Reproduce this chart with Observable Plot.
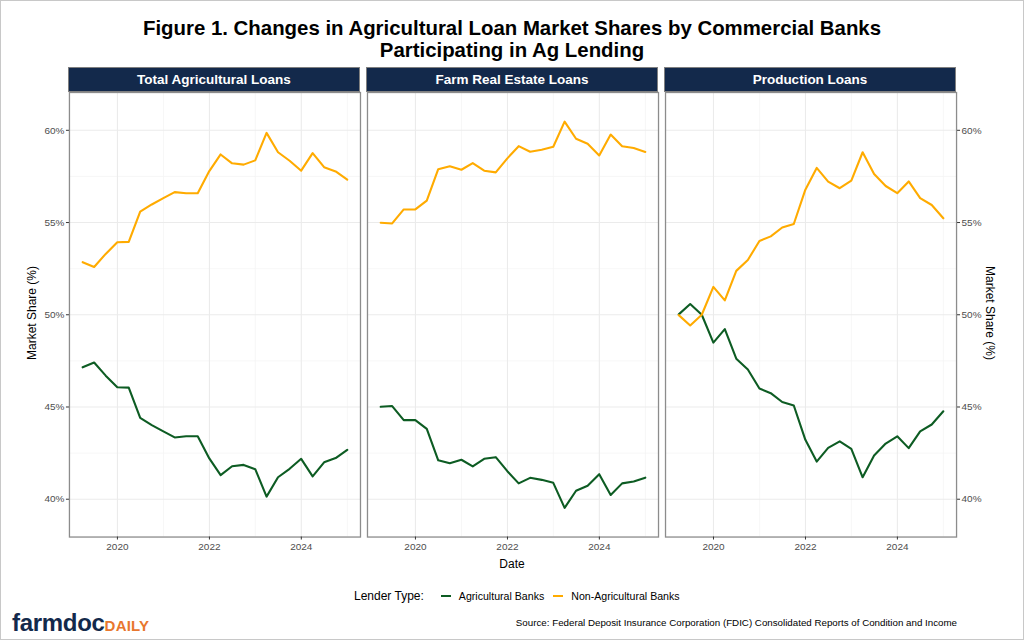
<!DOCTYPE html>
<html>
<head>
<meta charset="utf-8">
<script src="https://cdn.jsdelivr.net/npm/d3@7"></script>
<script src="https://cdn.jsdelivr.net/npm/@observablehq/plot@0.6"></script>
<style>
  html, body { margin: 0; padding: 0; background: #fff; }
  #fig {
    position: relative; width: 1022px; height: 638px;
    border: 1px solid #c8c8c8; background: #fff; overflow: hidden;
    font-family: "Liberation Sans", Arial, sans-serif; color: #000;
  }
  #title {
    position: absolute; top: 16px; left: 0; width: 1022px; text-align: center;
    font-weight: bold; font-size: 20.4px; line-height: 22px;
  }
  .strip {
    position: absolute; top: 66px; height: 23px; width: 290px;
    background: #13294b; border: 1px solid #7f7f7f; color: #fff;
    font-weight: bold; font-size: 13.5px; line-height: 23px; text-align: center;
  }
  #chart { position: absolute; top: 79px; left: -1px; }
  .ylab {
    position: absolute; font-size: 12px; white-space: nowrap;
    transform-origin: center center;
  }
  #xlab { position: absolute; top: 556px; left: 0; width: 1022px; text-align: center; font-size: 12px; }
  #legend {
    position: absolute; top: 588px; left: 353px; display: flex; align-items: center;
    white-space: nowrap;
  }
  #legend .lt { font-size: 12px; margin-right: 17px; }
  #legend .sw { width: 10px; height: 2.5px; margin-right: 8px; }
  #legend .it { font-size: 10.6px; margin-right: 9px; }
  #logo {
    position: absolute; left: 11px; top: 608px; font-weight: bold; white-space: nowrap;
  }
  #logo .a { color: #13294b; font-size: 24px; letter-spacing: -0.3px; }
  #logo .b { color: #e8772e; font-size: 15px; letter-spacing: 0.2px; }
  #source { position: absolute; right: 66px; top: 616px; font-size: 9.75px; white-space: nowrap; }
</style>
</head>
<body>
<div id="fig">
  <div id="title">Figure 1. Changes in Agricultural Loan Market Shares by Commercial Banks<br>Participating in Ag Lending</div>
  <div id="strips"></div>
  <div id="chart"></div>
  <div class="ylab" id="ylabL">Market Share (%)</div>
  <div class="ylab" id="ylabR">Market Share (%)</div>
  <div id="xlab">Date</div>
  <div id="legend"></div>
  <div id="logo"><span class="a">farmdoc</span><span class="b">DAILY</span></div>
  <div id="source">Source: Federal Deposit Insurance Corporation (FDIC) Consolidated Reports of Condition and Income</div>
</div>
<script>
// Panels (loan categories) and lender types
const panels = ["Total Agricultural Loans", "Farm Real Estate Loans", "Production Loans"];
const lenderTypes = ["Agricultural Banks", "Non-Agricultural Banks"];
const lenderColors = ["#0d5c23", "#ffab00"];

// Quarter-end reporting dates
const quarters = [
  "2019-03-31", "2019-06-30", "2019-09-30", "2019-12-31",
  "2020-03-31", "2020-06-30", "2020-09-30", "2020-12-31",
  "2021-03-31", "2021-06-30", "2021-09-30", "2021-12-31",
  "2022-03-31", "2022-06-30", "2022-09-30", "2022-12-31",
  "2023-03-31", "2023-06-30", "2023-09-30", "2023-12-31",
  "2024-03-31", "2024-06-30", "2024-09-30", "2024-12-31"
];

// Market shares (%) by panel and lender type
const totalAg = [47.15, 47.41, 46.70, 46.07, 46.05, 44.41, 44.02, 43.68, 43.35, 43.41, 43.41, 42.21,
                 41.31, 41.79, 41.86, 41.63, 40.14, 41.19, 41.65, 42.19, 41.24, 42.00, 42.23, 42.67];
const totalNonAg = [52.85, 52.59, 53.30, 53.93, 53.95, 55.59, 55.98, 56.32, 56.65, 56.59, 56.59, 57.79,
                    58.69, 58.21, 58.14, 58.37, 59.86, 58.81, 58.35, 57.81, 58.76, 58.00, 57.77, 57.33];
const realEstateAg = [45.01, 45.05, 44.29, 44.29, 43.81, 42.11, 41.95, 42.14, 41.78, 42.19, 42.28, 41.52,
                      40.86, 41.16, 41.05, 40.89, 39.53, 40.46, 40.73, 41.36, 40.23, 40.86, 40.96, 41.17];
const realEstateNonAg = [54.99, 54.95, 55.71, 55.71, 56.19, 57.89, 58.05, 57.86, 58.22, 57.81, 57.72, 58.48,
                         59.14, 58.84, 58.95, 59.11, 60.47, 59.54, 59.27, 58.64, 59.77, 59.14, 59.04, 58.83];
const productionAg = [50.02, 50.58, 50.00, 48.49, 49.22, 47.62, 47.03, 46.00, 45.75, 45.27, 45.08, 43.22,
                      42.04, 42.78, 43.14, 42.73, 41.19, 42.37, 43.02, 43.41, 42.77, 43.68, 44.05, 44.77];
const productionNonAg = [49.98, 49.42, 50.00, 51.51, 50.78, 52.38, 52.97, 54.00, 54.25, 54.73, 54.92, 56.78,
                         57.96, 57.22, 56.86, 57.27, 58.81, 57.63, 56.98, 56.59, 57.23, 56.32, 55.95, 55.23];

// Axis breaks
const yMajor = [40, 45, 50, 55, 60];
const yMinor = [42.5, 47.5, 52.5, 57.5];
const xMajor = ["2020-01-01", "2022-01-01", "2024-01-01"];
const xMinor = ["2021-01-01", "2023-01-01", "2025-01-01"];

const seriesByPanel = [
  [totalAg, totalNonAg],
  [realEstateAg, realEstateNonAg],
  [productionAg, productionNonAg]
];

// Tidy table: one row per panel, lender type and quarter
const rows = [];
panels.forEach((panel, p) => {
  lenderTypes.forEach((lender, l) => {
    seriesByPanel[p][l].forEach((v, i) => {
      rows.push({panel, lender, date: new Date(quarters[i]), value: v});
    });
  });
});

const dates = quarters.map(d => new Date(d));
const t0 = +d3.min(dates), t1 = +d3.max(dates), span = t1 - t0;
const yLo = 37.95, yHi = 62.05;

const chart = Plot.plot({
  width: 1024,
  height: 497,
  marginTop: 12,
  marginBottom: 40,
  marginLeft: 69,
  marginRight: 67,
  style: {fontFamily: "'Liberation Sans', Arial, sans-serif", background: "transparent"},
  fx: {domain: panels, paddingInner: 7 / 298, paddingOuter: 0, round: false, axis: null},
  x: {type: "utc", domain: [new Date(t0 - 0.05 * span), new Date(t1 + 0.05 * span)]},
  y: {domain: [yLo, yHi]},
  color: {domain: lenderTypes, range: lenderColors},
  marks: [
    Plot.gridY(yMinor, {stroke: "#f3f3f3", strokeOpacity: 1, strokeWidth: 0.7}),
    Plot.gridX(xMinor.map(d => new Date(d)), {stroke: "#f3f3f3", strokeOpacity: 1, strokeWidth: 0.7}),
    Plot.gridY(yMajor, {stroke: "#ebebeb", strokeOpacity: 1, strokeWidth: 1.1}),
    Plot.gridX(xMajor.map(d => new Date(d)), {stroke: "#ebebeb", strokeOpacity: 1, strokeWidth: 1.1}),
    Plot.line(rows, {fx: "panel", x: "date", y: "value", stroke: "lender", strokeWidth: 2.1, strokeLinejoin: "round"}),
    Plot.frame({stroke: "#8c8c8c", strokeWidth: 1.3}),
    Plot.axisY(yMajor, {anchor: "left", tickFormat: d => d + "%", label: null, tickSize: 3, tickPadding: 2,
                        fontSize: 10, fill: "#4d4d4d", stroke: "#333"}),
    Plot.axisY(yMajor, {anchor: "right", tickFormat: d => d + "%", label: null, tickSize: 3, tickPadding: 2,
                        fontSize: 10, fill: "#4d4d4d", stroke: "#333"}),
    Plot.axisX(xMajor.map(d => new Date(d)), {anchor: "bottom", tickFormat: "%Y", label: null, tickSize: 3,
                        tickPadding: 3, fontSize: 10, fill: "#4d4d4d", stroke: "#333"})
  ]
});
document.getElementById("chart").appendChild(chart);

// Facet strips above each panel
const strips = document.getElementById("strips");
const stripLeft = [67, 365, 663];
panels.forEach((p, i) => {
  const s = document.createElement("div");
  s.className = "strip";
  s.style.left = stripLeft[i] + "px";
  s.textContent = p;
  strips.appendChild(s);
});

// Rotated y-axis titles
const yl = document.getElementById("ylabL");
const yr = document.getElementById("ylabR");
[yl, yr].forEach(el => {
  el.style.top = (312 - el.offsetHeight / 2) + "px";
});
yl.style.left = (31 - yl.offsetWidth / 2) + "px";
yl.style.transform = "rotate(-90deg)";
yr.style.left = (989 - yr.offsetWidth / 2) + "px";
yr.style.transform = "rotate(90deg)";

// Legend
const legend = document.getElementById("legend");
const lt = document.createElement("span");
lt.className = "lt"; lt.textContent = "Lender Type:";
legend.appendChild(lt);
lenderTypes.forEach((name, i) => {
  const sw = document.createElement("span");
  sw.className = "sw"; sw.style.background = lenderColors[i];
  legend.appendChild(sw);
  const it = document.createElement("span");
  it.className = "it"; it.textContent = name;
  legend.appendChild(it);
});
</script>
</body>
</html>
